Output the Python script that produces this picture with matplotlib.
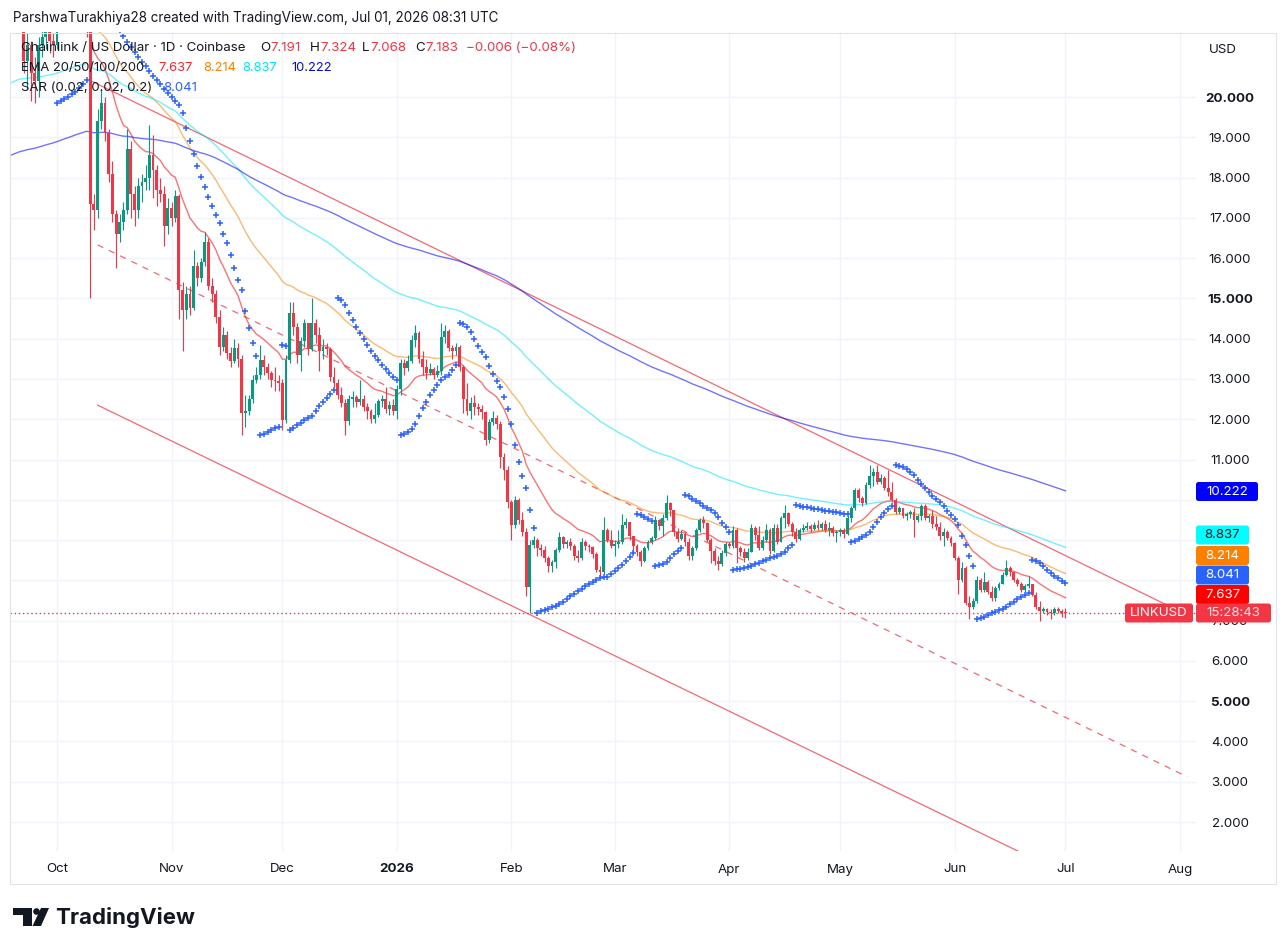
#!/usr/bin/env python3
import numpy as np
import matplotlib

matplotlib.use("Agg")
import matplotlib.pyplot as plt
import matplotlib.dates as mdates
from matplotlib.patches import FancyBboxPatch, Rectangle, Polygon, Circle

plt.rcParams["font.family"] = ["Inter", "DejaVu Sans"]

# ---- daily LINK/USD candles, 2025-09-18 .. 2026-07-01 ----
FIRST_DAY = "2025-09-18"
FIRST_OPEN = 22.6

closes = [
    22.3, 22.0, 22.4, 22.1, 20.9, 21.3, 20.6, 20.4, 21.3, 21.5, 21.7, 21.4, 21.3,  # Sep
    22.0, 22.2, 22.4, 22.1, 22.3, 22.6, 22.0, 22.3, 22.0, 17.35, 17.2, 19.4, 19.85, 19.1, 18.1, 17.1,
    16.6, 16.9, 17.2, 18.7, 17.6, 17.2, 17.8, 17.9, 18.0, 18.55, 18.2, 17.7, 17.6, 16.8, 17.25,  # Oct
    17.0, 17.55, 15.2, 14.7, 15.1, 14.75, 15.8, 15.5, 15.9, 16.4, 15.3, 15.1, 14.55, 13.8, 14.1,
    13.65, 13.45, 13.77, 13.5, 12.15, 12.2, 12.5, 12.97, 13.1, 13.47, 13.3, 13.15, 12.97, 12.95, 12.9,  # Nov
    11.98, 13.47, 14.64, 14.3, 13.6, 13.95, 14.4, 13.75, 14.4, 14.1, 13.7, 13.8, 13.75, 13.05, 12.9,
    12.6, 12.4, 11.95, 12.5, 12.55, 12.43, 12.5, 12.3, 12.2, 12.0, 12.1, 12.45, 12.5, 12.25, 12.35, 12.2,  # Dec
    12.75, 13.4, 13.27, 13.45, 13.97, 14.14, 13.5, 13.3, 13.15, 13.25, 13.1, 13.2, 14.05, 14.2, 13.77,
    13.7, 13.8, 13.3, 12.5, 12.2, 12.4, 12.3, 12.25, 12.18, 11.48, 11.93, 12.03, 11.88, 11.06, 10.75, 9.95,  # Jan
    9.38, 10.0, 9.5, 9.2, 7.84, 8.88, 9.0, 8.8, 8.75, 8.56, 8.35, 8.45, 8.75, 9.08,
    8.9, 8.95, 8.85, 8.6, 8.55, 8.95, 8.85, 8.83, 8.66, 8.26, 8.2, 9.25, 9.0, 8.85,  # Feb
    8.9, 8.95, 9.37, 9.45, 9.1, 8.85, 8.7, 8.47, 8.8, 8.95, 9.05, 9.5, 9.35, 9.55, 9.92,
    9.75, 9.2, 9.03, 9.15, 8.95, 8.6, 8.8, 9.25, 9.5, 9.42, 9.0, 8.72, 8.47, 8.4, 8.68, 8.9,  # Mar
    8.85, 9.25, 8.8, 8.7, 8.55, 8.7, 9.3, 9.12, 8.8, 9.0, 9.25, 8.72, 9.3, 8.95, 9.55,
    9.68, 9.4, 9.2, 9.03, 9.25, 9.3, 9.35, 9.28, 9.38, 9.3, 9.4, 9.25, 9.3, 9.17, 9.2,  # Apr
    9.25, 9.15, 9.55, 9.8, 10.24, 10.05, 9.92, 10.36, 10.6, 10.7, 10.45, 10.55, 10.3, 10.2, 10.0,
    9.7, 9.8, 9.6, 9.65, 9.7, 9.5, 9.6, 9.85, 9.55, 9.6, 9.4, 9.33, 9.1, 9.2, 9.05, 8.93,  # May
    8.55, 8.0, 8.3, 7.45, 7.35, 7.48, 8.0, 7.75, 7.95, 7.7, 7.55, 7.8, 7.92, 8.13, 8.3,
    8.2, 8.0, 7.9, 7.75, 7.85, 7.9, 7.63, 7.35, 7.23, 7.3, 7.22, 7.2, 7.3, 7.25, 7.191,  # Jun
    7.183,  # Jul 1
]

highs = [
    23.0, 22.6, 22.7, 22.6, 22.2, 21.6, 21.4, 21.0, 21.5, 21.8, 21.9, 21.8, 21.6,
    22.6, 22.5, 22.6, 22.5, 22.6, 22.8, 22.7, 22.6, 22.5, 22.3, 17.6, 19.7, 20.2, 20.0, 19.2, 18.4,
    17.2, 17.1, 17.4, 19.2, 18.9, 17.8, 18.0, 18.1, 18.3, 19.3, 19.06, 18.3, 18.0, 17.8, 17.5,
    17.4, 17.7, 17.6, 15.4, 15.3, 15.3, 16.2, 15.9, 16.0, 16.65, 16.5, 15.5, 15.2, 14.7, 14.3,
    14.2, 13.8, 14.0, 13.9, 13.6, 12.6, 12.6, 13.1, 13.3, 13.85, 13.6, 13.4, 13.2, 13.3, 13.1,
    13.0, 13.6, 14.9, 14.9, 14.4, 14.05, 14.5, 14.4, 15.0, 14.5, 14.3, 14.0, 13.9, 13.8, 13.3,
    13.0, 12.8, 12.5, 12.6, 12.7, 12.6, 12.97, 12.6, 12.4, 12.25, 12.4, 12.5, 12.6, 12.8, 12.45, 12.5,
    12.85, 13.5, 13.5, 13.6, 14.1, 14.35, 14.2, 13.7, 13.5, 13.4, 13.3, 13.35, 14.4, 14.35, 14.25,
    13.85, 13.9, 13.85, 13.35, 12.9, 12.55, 12.6, 12.4, 12.35, 12.2, 12.0, 12.2, 12.1, 11.95, 11.15, 10.85,
    10.0, 10.1, 10.05, 9.7, 9.3, 9.0, 9.1, 9.05, 8.9, 8.85, 8.6, 8.5, 8.8, 9.2,
    9.1, 9.0, 9.05, 8.9, 8.75, 9.05, 9.0, 8.9, 8.85, 8.7, 8.35, 9.57, 9.3, 9.25,
    9.0, 9.25, 9.65, 9.55, 9.45, 9.1, 8.9, 8.75, 8.85, 9.0, 9.1, 9.6, 9.5, 9.65, 10.12,
    9.95, 9.75, 9.3, 9.25, 9.2, 9.05, 8.85, 9.3, 9.55, 9.6, 9.45, 9.05, 8.8, 8.6, 8.75, 8.95,
    8.95, 9.35, 9.3, 8.85, 8.8, 8.8, 9.4, 9.35, 9.35, 9.1, 9.4, 9.3, 9.4, 9.4, 9.6,
    9.87, 9.7, 9.45, 9.3, 9.3, 9.4, 9.45, 9.4, 9.45, 9.5, 9.45, 9.5, 9.45, 9.35, 9.25,
    9.3, 9.3, 9.6, 9.85, 10.3, 10.3, 10.1, 10.45, 10.87, 10.8, 10.87, 10.65, 10.6, 10.74, 10.45,
    10.05, 9.85, 9.8, 9.7, 9.75, 9.8, 9.65, 9.9, 9.9, 9.65, 9.75, 9.6, 9.45, 9.3, 9.25, 9.1,
    8.95, 8.6, 8.45, 8.35, 7.6, 7.55, 8.1, 8.05, 8.2, 8.0, 7.85, 7.85, 7.95, 8.2, 8.5,
    8.35, 8.2, 8.05, 7.95, 7.9, 8.1, 7.9, 7.7, 7.5, 7.35, 7.32, 7.3, 7.35, 7.33, 7.3,
    7.324,
]

lows = [
    22.0, 21.7, 21.9, 21.8, 20.6, 20.2, 19.9, 19.85, 20.0, 21.0, 21.2, 21.1, 21.0,
    21.2, 21.8, 22.0, 21.9, 21.9, 22.1, 21.8, 21.9, 21.5, 15.0, 16.7, 17.0, 19.2, 18.9, 17.9, 16.9,
    15.75, 16.4, 16.7, 17.1, 17.0, 16.8, 17.0, 17.4, 17.7, 17.7, 17.5, 17.3, 17.4, 16.3, 16.6,
    16.8, 16.9, 14.5, 13.7, 14.5, 14.6, 14.7, 15.3, 15.4, 15.8, 15.2, 14.9, 14.4, 13.6, 13.7,
    13.5, 13.3, 13.4, 13.3, 11.6, 11.8, 12.1, 12.4, 12.9, 13.0, 13.1, 13.0, 12.8, 12.7, 12.7,
    11.73, 11.9, 13.4, 14.1, 13.4, 13.2, 13.8, 13.6, 13.7, 13.9, 13.2, 13.5, 13.6, 12.95, 12.8,
    12.5, 12.3, 11.6, 11.85, 12.3, 12.3, 12.35, 12.2, 12.0, 11.9, 11.9, 12.05, 12.3, 12.15, 12.1, 12.1,
    12.0, 12.6, 13.1, 13.2, 13.4, 13.8, 13.4, 13.1, 13.0, 13.1, 13.0, 13.05, 13.1, 13.9, 13.7,
    13.5, 13.6, 13.2, 12.15, 12.1, 12.0, 12.1, 12.1, 12.0, 11.36, 11.4, 11.85, 11.75, 10.8, 10.5, 9.8,
    9.0, 9.3, 9.4, 9.1, 7.6, 7.19, 8.8, 8.6, 8.6, 8.45, 8.2, 8.2, 8.3, 8.7,
    8.8, 8.8, 8.75, 8.5, 8.45, 8.5, 8.75, 8.7, 8.55, 8.2, 8.08, 8.15, 8.95, 8.8,
    8.6, 8.8, 8.9, 9.3, 9.0, 8.7, 8.6, 8.35, 8.45, 8.75, 8.9, 9.0, 9.25, 9.1, 9.5,
    9.6, 9.1, 8.95, 9.0, 8.85, 8.5, 8.5, 8.75, 9.2, 9.3, 8.95, 8.42, 8.37, 8.25, 8.35, 8.6,
    8.8, 8.8, 8.42, 8.6, 8.45, 8.5, 8.7, 9.0, 8.75, 8.75, 8.95, 8.65, 8.7, 8.9, 8.95,
    9.3, 9.35, 9.1, 8.95, 9.0, 9.2, 9.25, 9.2, 9.25, 9.25, 9.25, 9.2, 9.1, 9.1, 8.95,
    9.1, 9.05, 9.13, 9.45, 9.75, 9.95, 9.85, 9.9, 10.3, 10.35, 10.4, 10.4, 10.25, 10.1, 9.95,
    9.65, 9.65, 9.55, 9.5, 9.55, 9.08, 9.45, 9.5, 9.5, 9.45, 9.3, 9.25, 9.0, 8.85, 9.0, 8.85,
    8.5, 7.65, 7.95, 7.4, 7.05, 7.3, 7.45, 7.7, 7.7, 7.65, 7.5, 7.5, 7.75, 7.9, 8.1,
    8.1, 7.95, 7.85, 7.7, 7.7, 7.8, 7.6, 7.3, 7.0, 7.2, 7.15, 7.05, 7.15, 7.2, 7.1,
    7.068,
]

# indicator settings (levels before the first visible bar)
EMA_PERIODS = [20, 50, 100, 200]
EMA_SEEDS = [22.4, 22.5, 20.3, 18.5]
EMA_COLORS = ["#ff0000", "#ff8000", "#00e5ff", "#0000ff"]
SAR_SEED = (24.6, 21.8, 0.02)  # sar, extreme point, acceleration (down trend)

# user drawn channel: start date, start price, end date, end price
CHANNEL_UPPER = ("2025-10-10", 20.41, "2026-08-03", 7.14)
CHANNEL_MID = ("2025-10-12", 16.33, "2026-08-03", 3.12)
CHANNEL_LOWER = ("2025-10-12", 12.35, "2026-08-03", -0.76)

PRICE_TICKS = list(range(2, 21))
HIDDEN_TICKS = {8, 9, 10}  # covered by the value tags
BOLD_TICKS = {5, 10, 15, 20}
MONTHS = ["2025-10-01", "2025-11-01", "2025-12-01", "2026-01-01", "2026-02-01", "2026-03-01",
          "2026-04-01", "2026-05-01", "2026-06-01", "2026-07-01", "2026-08-01"]
MONTH_LABELS = ["Oct", "Nov", "Dec", "2026", "Feb", "Mar", "Apr", "May", "Jun", "Jul", "Aug"]
LAST_PRICE = 7.183

GREEN = "#089981"
RED = "#f23645"
TEXT = "#131722"


def ema(values, period, seed):
    alpha = 2.0 / (period + 1)
    level = seed
    out = []
    for v in values:
        level += alpha * (v - level)
        out.append(level)
    return np.array(out)


def parabolic_sar(high, low, seed, step=0.02, max_step=0.2):
    sar, ep, acc = seed
    below = False
    out = []
    for i in range(len(high)):
        first = False
        if i > 0:
            sar = sar + acc * (ep - sar)
        if below:
            if sar > low[i]:
                first, below = True, False
                sar = max(high[i], ep)
                ep, acc = low[i], step
        else:
            if sar < high[i]:
                first, below = True, True
                sar = min(low[i], ep)
                ep, acc = high[i], step
        if not first:
            if below and high[i] > ep:
                ep, acc = high[i], min(acc + step, max_step)
            elif not below and low[i] < ep:
                ep, acc = low[i], min(acc + step, max_step)
        if i >= 1:
            if below:
                sar = min(sar, low[i - 1], low[max(i - 2, 0)])
            else:
                sar = max(sar, high[i - 1], high[max(i - 2, 0)])
        out.append(sar)
    return np.array(out)


def d2n(day):
    return mdates.date2num(np.datetime64(day))


assert len(closes) == len(highs) == len(lows)
n = len(closes)
days = np.arange(np.datetime64(FIRST_DAY), np.datetime64(FIRST_DAY) + n)
xs = mdates.date2num(days)
c = np.array(closes)
o = np.array([FIRST_OPEN] + closes[:-1])
h = np.maximum(np.array(highs), np.maximum(o, c))
l = np.minimum(np.array(lows), np.minimum(o, c))

W, H = 1288, 952
fig = plt.figure(figsize=(W / 100, H / 100), dpi=100)
fig.patch.set_facecolor("white")
L, R, T, B = 10, 1196, 32, 851
ax = fig.add_axes([L / W, 1 - B / H, (R - L) / W, (B - T) / H])
ax.set_facecolor("white")

x0 = d2n("2025-10-01")
ax.set_xlim(x0 - 12.72, x0 + 308.33)
ax.set_ylim(1.281, 21.614)

# grid and axis labels
ax.set_yticks(PRICE_TICKS, labels=["" if p in HIDDEN_TICKS else f"{p:.3f}" for p in PRICE_TICKS])
month_x = [d2n(m) for m in MONTHS]
ax.set_xticks(month_x, labels=MONTH_LABELS)
ax.grid(True, color="#f0f3fa", linewidth=1.0, zorder=0)
ax.set_axisbelow(True)
for s in ax.spines.values():
    s.set_visible(False)

ax.yaxis.tick_right()
ax.tick_params(axis="y", length=0, pad=24.5, labelsize=9.6, labelcolor=TEXT)
for lab, p in zip(ax.get_yticklabels(), PRICE_TICKS):
    lab.set_horizontalalignment("center")
    if p in BOLD_TICKS:
        lab.set_fontweight("bold")
ax.tick_params(axis="x", length=0, pad=9, labelsize=9.6, labelcolor=TEXT)
for lab, m in zip(ax.get_xticklabels(), MONTH_LABELS):
    if m == "2026":
        lab.set_fontweight("bold")

# channel
for line, style in ((CHANNEL_UPPER, "-"), (CHANNEL_MID, (0, (5, 5))), (CHANNEL_LOWER, "-")):
    ax.plot([d2n(line[0]), d2n(line[2])], [line[1], line[3]], color=RED, alpha=0.75,
            linewidth=0.9, linestyle=style, zorder=2)

# EMAs
for period, seed, color in zip(EMA_PERIODS, EMA_SEEDS, EMA_COLORS):
    ax.plot(xs, ema(closes, period, seed), color=color, alpha=0.55, linewidth=1.0, zorder=3)

# candles
colors = np.where(c >= o, GREEN, RED)
ax.vlines(xs, l, h, colors=colors, linewidth=0.8, zorder=4)
ax.bar(xs, np.maximum(np.abs(c - o), 0.025), bottom=np.minimum(o, c), width=0.78,
       color=colors, linewidth=0, zorder=5)

# parabolic SAR
ax.plot(xs, parabolic_sar(h, l, SAR_SEED), linestyle="none", marker="+", markersize=3.8,
        markeredgewidth=1.1, color="#2962ff", zorder=6)

# last price line
ax.axhline(LAST_PRICE, color=RED, linewidth=1.0, linestyle=(0, (1, 2)), zorder=3)

# ---- overlay in pixel coordinates: texts, labels, logo ----
ov = fig.add_axes([0, 0, 1, 1])
ov.set_xlim(0, W)
ov.set_ylim(H, 0)
ov.axis("off")

ov.add_patch(Rectangle((10.5, 32.5), 1266, 851, fill=False, edgecolor="#e0e3eb", linewidth=0.8))

ov.text(13, 18, "ParshwaTurakhiya28 created with TradingView.com, Jul 01, 2026 08:31 UTC",
        fontsize=9.7, color=TEXT, va="center")

header = [
    (48, 9.6, [("Chainlink / US Dollar · 1D · Coinbase", 21, TEXT), ("O", 260, TEXT), ("7.191", 270, RED),
               ("H", 310, TEXT), ("7.324", 320, RED), ("L", 362, TEXT), ("7.068", 370, RED),
               ("C", 415, TEXT), ("7.183", 425, RED), ("−0.006 (−0.08%)", 466, RED)]),
    (68, 9.3, [("EMA 20/50/100/200", 21, TEXT), ("7.637", 158, "#f7262f"), ("8.214", 203, "#ff8000"),
               ("8.837", 242, "#00e5ff"), ("10.222", 291, "#0a0ad0")]),
    (88, 9.5, [("SAR (0.02, 0.02, 0.2)", 21, TEXT), ("8.041", 163, "#2962ff")]),
]
for y, size, parts in header:
    for txt, x, col in parts:
        ov.text(x, y, txt, fontsize=size, color=col, va="center")

ov.text(1223, 50, "USD", fontsize=9.6, color=TEXT, va="center", ha="center")


def tag(xa, xb, yc, face, txt, tcol):
    ov.add_patch(FancyBboxPatch((xa, yc - 9.5), xb - xa, 19, boxstyle="round,pad=0,rounding_size=2.5",
                                facecolor=face, edgecolor="none", zorder=5))
    ov.text((xa + xb) / 2, yc + 0.5, txt, fontsize=9.6, color=tcol, ha="center", va="center", zorder=6)


tag(1196, 1258, 491.5, "#0000ff", "10.222", "white")
tag(1196, 1249, 535, "#00ffff", "8.837", TEXT)
tag(1196, 1249, 555.5, "#ff8000", "8.214", "white")
tag(1196, 1249, 575, "#2962ff", "8.041", "white")
tag(1196, 1249, 594.5, "#ff0000", "7.637", "white")
tag(1125, 1193, 613, RED, "LINKUSD", "white")
tag(1196, 1271, 613, RED, "15:28:43", "#ffe4e6")

# TradingView logo
ov.add_patch(Polygon([(13, 908), (32, 908), (32, 926), (23, 926), (23, 915), (13, 915)],
                     closed=True, facecolor=TEXT, edgecolor="none"))
ov.add_patch(Circle((36.5, 911.5), 3.3, facecolor=TEXT, edgecolor="none"))
ov.add_patch(Polygon([(41, 908), (49, 908), (41, 926), (32.5, 926)], closed=True,
                     facecolor=TEXT, edgecolor="none"))
ov.text(55, 917, "TradingView", fontsize=16, fontweight="bold", color=TEXT, va="center")

fig.savefig("out.png", dpi=100, facecolor="white")
